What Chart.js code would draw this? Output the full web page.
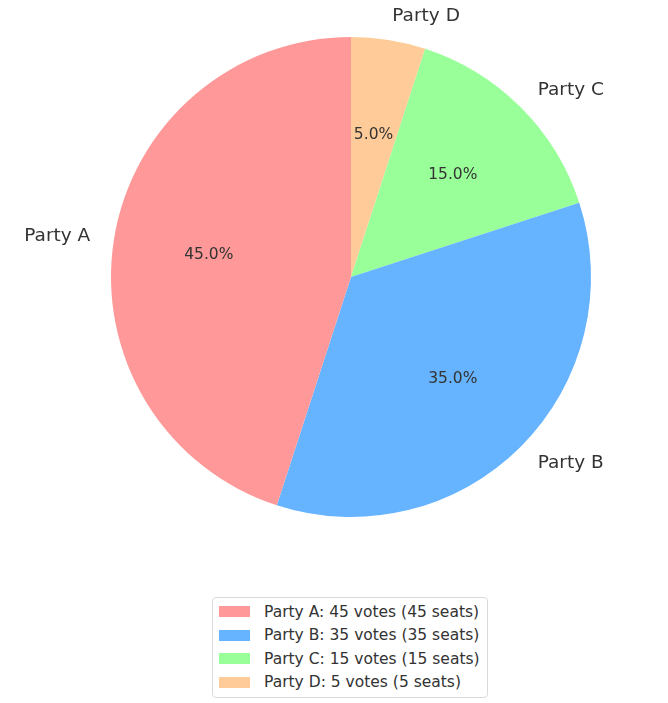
<!DOCTYPE html>
<html>
<head>
<meta charset="utf-8">
<script src="https://cdn.jsdelivr.net/npm/chart.js@4"></script>
<style>
  body { margin: 0; background: #fff; font-family: "DejaVu Sans", sans-serif; }
  #wrap { position: relative; width: 668px; height: 703px; }
  #legend {
    position: absolute; left: 212px; top: 597px;
    border: 1px solid #d9d9d9; border-radius: 4px; background: #fff;
    padding: 2px 7px 3px 0; box-sizing: border-box;
  }
  .item { display: flex; align-items: center; height: 23.5px; font-size: 15.5px; color: #333; white-space: nowrap; }
  .sw { width: 31px; height: 11px; margin: 0 14px 0 6px; }
</style>
</head>
<body>
<div id="wrap">
  <canvas id="myChart" width="668" height="703"></canvas>
  <div id="legend"></div>
</div>
<script>
const parties = ['Party A', 'Party B', 'Party C', 'Party D'];
const votes = [45, 35, 15, 5];
const seats = [45, 35, 15, 5];
const colors = ['#ff9999', '#66b3ff', '#99ff99', '#ffcc99'];

// matplotlib draws counter-clockwise from the top; Chart.js goes clockwise,
// so feed the slices in reverse order
const order = [3, 2, 1, 0];
const total = votes.reduce((a, b) => a + b, 0);

const labelPlugin = {
  id: 'pieLabels',
  afterDatasetsDraw(chart) {
    const ctx = chart.ctx;
    const meta = chart.getDatasetMeta(0);
    ctx.save();
    ctx.textBaseline = 'middle';
    meta.data.forEach((arc, i) => {
      const p = arc.getProps(['x', 'y', 'startAngle', 'endAngle', 'outerRadius'], true);
      const mid = (p.startAngle + p.endAngle) / 2;
      const cx = Math.cos(mid), cy = Math.sin(mid);
      const idx = order[i];
      // outer name label
      ctx.font = '18.5px "DejaVu Sans"';
      ctx.fillStyle = '#333';
      ctx.textAlign = cx < 0 ? 'right' : 'left';
      ctx.fillText(parties[idx], p.x + cx * p.outerRadius * 1.1, p.y + cy * p.outerRadius * 1.1);
      // percentage inside
      ctx.font = '15.5px "DejaVu Sans"';
      ctx.textAlign = 'center';
      const pct = (votes[idx] / total * 100).toFixed(1) + '%';
      ctx.fillText(pct, p.x + cx * p.outerRadius * 0.6, p.y + cy * p.outerRadius * 0.6);
    });
    ctx.restore();
  }
};

const data = {
  labels: order.map(i => parties[i]),
  datasets: [{
    data: order.map(i => votes[i]),
    backgroundColor: order.map(i => colors[i]),
    borderWidth: 0
  }]
};

const config = {
  type: 'pie',
  data: data,
  options: {
    responsive: false,
    animation: false,
    rotation: 0,
    layout: { padding: { left: 111, right: 77, top: 37, bottom: 186 } },
    plugins: {
      legend: { display: false },
      tooltip: { enabled: false }
    }
  },
  plugins: [labelPlugin]
};

const myChart = new Chart(document.getElementById('myChart'), config);

// legend, in the original party order
const legend = document.getElementById('legend');
parties.forEach((name, i) => {
  const row = document.createElement('div');
  row.className = 'item';
  const sw = document.createElement('span');
  sw.className = 'sw';
  sw.style.background = colors[i];
  const txt = document.createElement('span');
  txt.textContent = name + ': ' + votes[i] + ' votes (' + seats[i] + ' seats)';
  row.appendChild(sw);
  row.appendChild(txt);
  legend.appendChild(row);
});
</script>
</body>
</html>
